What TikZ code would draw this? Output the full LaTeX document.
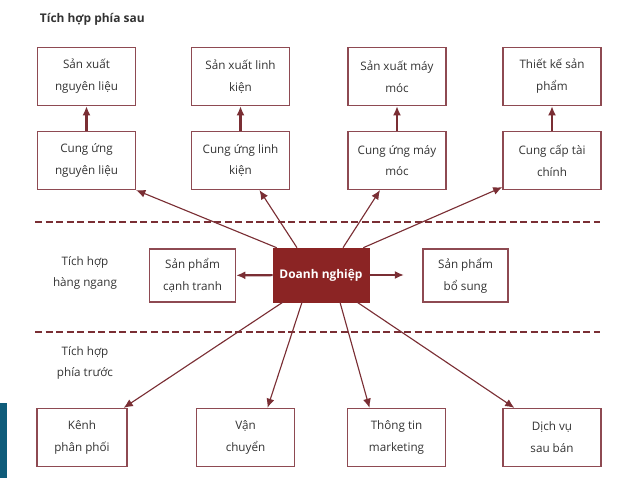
\documentclass[tikz,border=0pt]{standalone}
\usepackage{fontspec}
\setmainfont{Open Sans}
\usetikzlibrary{arrows.meta}
\usetikzlibrary{positioning}
\usetikzlibrary{calc}
\tikzset{>={Latex[length=2.3mm, width=2mm]}}
\definecolor{dnred}{HTML}{8B2424}
\definecolor{boxred}{HTML}{8E4A52}
\definecolor{linered}{HTML}{7A2E34}
\definecolor{txtgray}{HTML}{333333}
\definecolor{sidebar}{HTML}{0F5C7A}
\tikzset{
    boxnode/.style={draw=boxred, line width=0.9pt, fill=white, text=txtgray, align=center,
        minimum width=2.45cm, minimum height=1.45cm, inner sep=1pt,
        font=\fontsize{8.3}{15.5}\selectfont},
    firm/.style={fill=dnred, draw=dnred, text=white, align=center,
        minimum width=2.4cm, minimum height=1.35cm, font=\fontsize{8.5}{10}\selectfont\bfseries},
    flow/.style={->, draw=linered, line width=0.8pt},
    upflow/.style={->, draw=linered, line width=1.5pt},
    band/.style={draw=linered, line width=1.3pt, dash pattern=on 5pt off 2.5pt},
    tag/.style={text=txtgray, align=center, font=\fontsize{8.3}{15.5}\selectfont},
}

\begin{document}
\begin{tikzpicture}[x=0.025cm, y=-0.025cm]
	\useasboundingbox (0,0) rectangle (638,478);
	\fill[sidebar] (0,403) rectangle (7,478);
	\node[anchor=west, text=txtgray, font=\fontsize{8.5}{10}\selectfont\bfseries] (title) at (35,19) {Tích hợp phía sau};
	
	% phia sau
	\node[boxnode] (sxnl) at (86.5,76.5) {Sản xuất\\nguyên liệu};
	\node[boxnode] (sxlk) at (240.5,76.5) {Sản xuất linh\\kiện};
	\node[boxnode] (sxmm) at (397,76.5) {Sản xuất máy\\móc};
	\node[boxnode] (tksp) at (552,76.5) {Thiết kế sản\\phẩm};
	\node[boxnode] (cunl) at (86.5,160.5) {Cung ứng\\nguyên liệu};
	\node[boxnode] (culk) at (240.5,160.5) {Cung ứng linh\\kiện};
	\node[boxnode] (cumm) at (397,160.5) {Cung ứng máy\\móc};
	\node[boxnode] (cctc) at (552,160.5) {Cung cấp tài\\chính};
	\draw[upflow] (cunl) -- (sxnl);
	\draw[upflow] (culk) -- (sxlk);
	\draw[upflow] (cumm) -- (sxmm);
	\draw[upflow] (cctc) -- (tksp);
	
	% hang ngang
	\coordinate (b1l) at (35,222);
	\coordinate (b1r) at (600,222);
	\coordinate (b2l) at (35,332);
	\coordinate (b2r) at (600,332);
	\draw[band] (b1l) -- (b1r);
	\draw[band] (b2l) -- (b2r);
	\node[tag] (ngang) at (85,273) {Tích hợp\\hàng ngang};
	\node[tag] (truoc) at (85,363) {Tích hợp\\phía trước};
	\node[firm] (dn) at (321,275) {Doanh nghiệp};
	\node[boxnode, minimum width=2.15cm, minimum height=1.32cm] (spct) at (192.5,275.5) {Sản phẩm\\cạnh tranh};
	\node[boxnode, minimum width=2.12cm, minimum height=1.32cm] (spbs) at (465.5,275.5) {Sản phẩm\\bổ sung};
	\coordinate (bsend) at (404,275);
	\draw[upflow] (dn) -- (spct);
	\draw[upflow] (dn) -- (bsend);
	
	% phia truoc
	\node[boxnode, minimum width=2.25cm] (kpp) at (82,437.5) {Kênh\\phân phối};
	\node[boxnode] (vc) at (245.5,437.5) {Vận\\chuyển};
	\node[boxnode] (ttm) at (396.5,437.5) {Thông tin\\marketing};
	\node[boxnode] (dvsb) at (552,437.5) {Dịch vụ\\sau bán};
	
	\draw[flow] ($(dn.north west)+(4,0)$) -- (cunl.south east);
	\draw[flow] ($(dn.north)+(-24,0)$) -- ($(culk.south)+(19,0)$);
	\draw[flow] ($(dn.north)+(22,0)$) -- ($(cumm.south)+(-17,0)$);
	\draw[flow] ($(dn.north east)+(-6,0)$) -- ($(cctc.south west)+(0,-3)$);
	\draw[flow] ($(dn.south west)+(10,0)$) -- ($(kpp.north east)+(-4,0)$);
	\draw[flow] ($(dn.south)+(-19,0)$) -- ($(vc.north)+(22,0)$);
	\draw[flow] ($(dn.south)+(19,0)$) -- ($(ttm.north)+(-27,0)$);
	\draw[flow] ($(dn.south east)+(-12,0)$) -- ($(dvsb.north west)+(12,0)$);
\end{tikzpicture}
\end{document}
